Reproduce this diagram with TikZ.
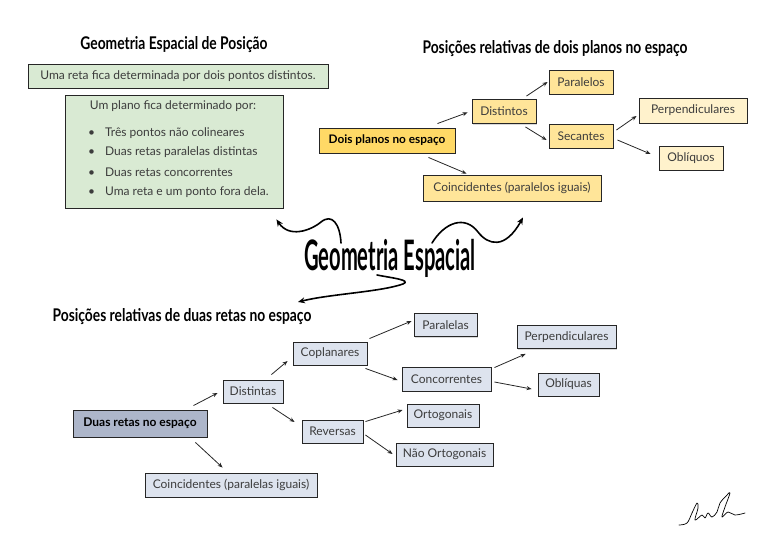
\documentclass[tikz,border=0pt]{standalone}
\usepackage{fontspec}
\setmainfont{Lato}
\newfontfamily\titlefont[FakeStretch=0.79]{Lato}
\newfontfamily\bigfont[FakeStretch=0.48]{Lato}
\usetikzlibrary{arrows.meta,shadows}
\definecolor{greenfill}{HTML}{D9EAD3}
\definecolor{yelmain}{HTML}{FFD966}
\definecolor{yelmid}{HTML}{FFE599}
\definecolor{yellight}{HTML}{FFF2CC}
\definecolor{bluemain}{HTML}{ADB6CA}
\definecolor{bluelight}{HTML}{DDE3EE}
\definecolor{inkgray}{HTML}{3C3C3C}
\tikzset{
  box/.style      = {draw=black!85, line width=0.9pt, minimum height=24pt, inner sep=1pt,
                     font=\fontsize{12}{14}\selectfont, text=inkgray,
                     drop shadow={opacity=0.3, shadow xshift=1.2pt, shadow yshift=-1.2pt}},
  greenbox/.style = {box, fill=greenfill},
  yelbox/.style   = {box, fill=yelmid},
  yelhead/.style  = {box, fill=yelmain, text=black, font=\bfseries\fontsize{11.8}{14}\selectfont},
  yelsoft/.style  = {box, fill=yellight},
  bluebox/.style  = {box, fill=bluelight},
  bluehead/.style = {box, fill=bluemain, text=black, font=\bfseries\fontsize{12}{14}\selectfont},
  txt/.style      = {inner sep=0pt, text=inkgray, font=\fontsize{12}{14}\selectfont},
  sectitle/.style = {inner sep=0pt, font=\titlefont\bfseries\fontsize{17.5}{20}\selectfont},
  bigtitle/.style = {inner sep=0pt, font=\bigfont\bfseries\fontsize{42}{44}\selectfont},
  arr/.style      = {-{Stealth[length=5pt,width=4pt]}, line width=0.8pt, black!85},
  curl/.style     = {-{Stealth[length=7pt,width=6pt]}, line width=1.6pt, line cap=round},
  sig/.style      = {line width=0.7pt, line cap=round, line join=round}
}

\begin{document}
\begin{tikzpicture}[x=1pt,y=-1pt]
  \useasboundingbox (0,0) rectangle (768,543);
  % geometria espacial de posicao
  \node[sectitle] (titpos) at (174,45) {Geometria Espacial de Posição};
  \node[greenbox, minimum width=300pt] (reta) at (178,76)
       {Uma reta fica determinada por dois pontos distintos.};
  \node[greenbox, minimum width=218pt, minimum height=113pt] (plano) at (174,151.5) {};
  \node[txt] (planohead) at (173,106) {Um plano fica determinado por:};
  \node[txt, anchor=west] (item1) at (88,133) {\textbullet\hspace{10pt}Três pontos não colineares};
  \node[txt, anchor=west] (item2) at (88,152) {\textbullet\hspace{10pt}Duas retas paralelas distintas};
  \node[txt, anchor=west] (item3) at (88,172) {\textbullet\hspace{10pt}Duas retas concorrentes};
  \node[txt, anchor=west] (item4) at (88,192) {\textbullet\hspace{10pt}Uma reta e um ponto fora dela.};

  % dois planos
  \node[sectitle] (titplanos) at (555,49) {Posições relativas de dois planos no espaço};
  \node[yelhead, minimum width=136pt, minimum height=25pt] (dois) at (387,140.5) {Dois planos no espaço};
  \node[yelbox, minimum width=64pt] (distintosP) at (504,111.5) {Distintos};
  \node[yelbox, minimum width=64pt] (paralelos) at (581,82) {Paralelos};
  \node[yelbox, minimum width=64pt] (secantes) at (581,136) {Secantes};
  \node[yelsoft, minimum width=108pt, minimum height=25pt] (perpP) at (693,110.5) {Perpendiculares};
  \node[yelsoft, minimum width=64pt] (obliquos) at (691,158) {Oblíquos};
  \node[yelbox, minimum width=178pt, minimum height=26pt] (coincP) at (512,188) {Coincidentes (paralelos iguais)};
  \draw[arr] ([shift={(-18,-4)}]dois.north east) -- ([shift={(-4,1)}]distintosP.west);
  \draw[arr] ([shift={(-10,-3)}]distintosP.north east) -- ([shift={(-1,0)}]paralelos.west);
  \draw[arr] ([shift={(-11,3)}]distintosP.south east) -- ([shift={(-2,4)}]secantes.west);
  \draw[arr] ([shift={(3,-6)}]secantes.east) -- ([shift={(-2,5.5)}]perpP.west);
  \draw[arr] ([shift={(4,4)}]secantes.east) -- ([shift={(-8,-4)}]obliquos.west);
  \draw[arr] ([shift={(-27,4)}]dois.south east) -- ([shift={(44,-1)}]coincP.north west);

  % titulo central e setas
  \node[bigtitle] (geo) at (390,258) {Geometria Espacial};
  \draw[curl] ([shift={(-49,-15)}]geo.center) .. controls (340,224) and (332,213) .. (321,222)
        .. controls (310,231) and (289,238) .. ([shift={(-7,11)}]plano.south east);
  \draw[curl] ([shift={(42,-15)}]geo.center) .. controls (445,222) and (465,215) .. (478,232)
        .. controls (488,245) and (505,250) .. ([shift={(11,16)}]coincP.south);
  \draw[curl] ([shift={(-13,17)}]geo.center) .. controls (392,278) and (412,280) .. (403,284)
        .. controls (380,292) and (330,294) .. ([shift={(-92,44)}]geo.center);

  % duas retas
  \node[sectitle] (titretas) at (182,317) {Posições relativas de duas retas no espaço};
  \node[bluehead, minimum width=134pt, minimum height=27pt] (duas) at (140,423.5) {Duas retas no espaço};
  \node[bluebox, minimum width=60pt, minimum height=23pt] (distintas) at (253,391.5) {Distintas};
  \node[bluebox, minimum width=74pt, minimum height=23pt] (coplanares) at (330,353.5) {Coplanares};
  \node[bluebox, minimum width=61pt, minimum height=23pt] (reversas) at (332.5,431.5) {Reversas};
  \node[bluebox, minimum width=63pt, minimum height=23pt] (paralelas) at (445.5,325) {Paralelas};
  \node[bluebox, minimum width=89pt] (concorrentes) at (446.5,379) {Concorrentes};
  \node[bluebox, minimum width=99pt, minimum height=23pt] (perpR) at (566.5,337) {Perpendiculares};
  \node[bluebox, minimum width=61pt, minimum height=23pt] (obliquas) at (568.5,384.5) {Oblíquas};
  \node[bluebox, minimum width=72pt, minimum height=23pt] (ortogonais) at (443,415.5) {Ortogonais};
  \node[bluebox, minimum width=97pt, minimum height=23pt] (naoort) at (444.5,454.5) {Não Ortogonais};
  \node[bluebox, minimum width=172pt] (coincR) at (231,485) {Coincidentes (paralelas iguais)};
  \draw[arr] ([shift={(-14,-4)}]duas.north east) -- ([shift={(-5,1.5)}]distintas.west);
  \draw[arr] ([shift={(-12,-5)}]distintas.north east) -- ([shift={(-5,7.5)}]coplanares.west);
  \draw[arr] ([shift={(-11,4)}]distintas.south east) -- ([shift={(-7,-9.5)}]reversas.west);
  \draw[arr] ([shift={(2,-3)}]coplanares.north east) -- ([shift={(-2,-4)}]paralelas.west);
  \draw[arr] ([shift={(-2,3)}]coplanares.south east) -- ([shift={(-4,1)}]concorrentes.west);
  \draw[arr] ([shift={(3,1)}]concorrentes.north east) -- ([shift={(9,5)}]perpR.south west);
  \draw[arr] ([shift={(3,3)}]concorrentes.east) -- ([shift={(-6,4.5)}]obliquas.west);
  \draw[arr] ([shift={(2,2)}]reversas.north east) -- ([shift={(-4,-5.5)}]ortogonais.west);
  \draw[arr] ([shift={(2,3.5)}]reversas.east) -- ([shift={(-3,-0.5)}]naoort.west);
  \draw[arr] ([shift={(-12,5)}]duas.south east) -- ([shift={(78,-5)}]coincR.north west);

  % assinatura
  \draw[sig] plot[smooth, tension=0.6] coordinates {(679,525) (687,523) (692,513) (697,503)
        (698,508) (695,520) (702,515) (705,518) (708,513) (712,517) (717,512) (720,503)
        (727,495) (730,493) (725,507) (722,517) (728,512) (735,515) (745,513)};
\end{tikzpicture}
\end{document}
